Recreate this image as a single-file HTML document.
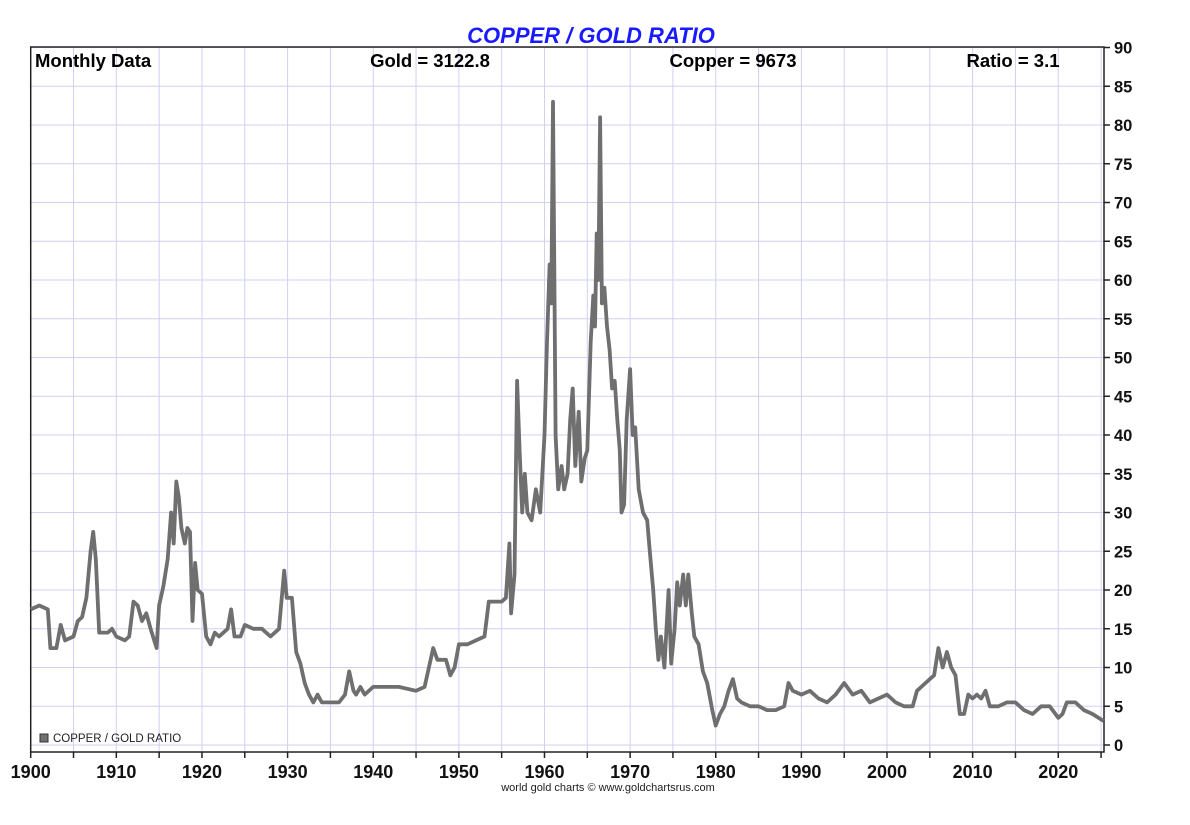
<!DOCTYPE html>
<html><head><meta charset="utf-8"><style>
body{margin:0;background:#fff;}
svg{display:block;font-family:"Liberation Sans",sans-serif;}
</style></head><body>
<svg width="1190" height="825" viewBox="0 0 1190 825">
<g id="grid"></g>
<g id="axes"></g>
<text x="591" y="43" text-anchor="middle" fill="#1a1aff" font-weight="bold" font-style="italic" font-size="22">COPPER / GOLD RATIO</text>
<text x="35" y="67" font-weight="bold" font-size="18.5">Monthly Data</text>
<text x="430" y="67" text-anchor="middle" font-weight="bold" font-size="18.5">Gold = 3122.8</text>
<text x="733" y="67" text-anchor="middle" font-weight="bold" font-size="18.5">Copper = 9673</text>
<text x="1013" y="67" text-anchor="middle" font-weight="bold" font-size="18.5">Ratio = 3.1</text>
<path id="series" fill="none" stroke="#6f6f6f" stroke-width="3.8" stroke-linejoin="round"></path>
<rect x="40" y="734" width="8" height="8" fill="#707070" stroke="#333" stroke-width="1"/>
<text x="53" y="742" font-size="11.5" fill="#222">COPPER / GOLD RATIO</text>
<text x="608" y="791" text-anchor="middle" font-size="11" fill="#222">world gold charts © www.goldchartsrus.com</text>
</svg>
<script>
const years=[1900,1901,1902,1902.3,1903,1903.5,1904,1905,1905.5,1906,1906.5,1907,1907.3,1907.6,1908,1909,1909.5,1910,1911,1911.5,1912,1912.5,1913,1913.5,1914,1914.7,1915,1915.5,1916,1916.4,1916.7,1917,1917.3,1917.6,1918,1918.3,1918.6,1918.9,1919.2,1919.5,1920,1920.5,1921,1921.5,1922,1923,1923.4,1923.8,1924.5,1925,1926,1927,1928,1929,1929.6,1929.9,1930.5,1931,1931.5,1932,1932.5,1933,1933.5,1934,1935,1936,1936.7,1937.2,1937.7,1938,1938.5,1939,1940,1941,1943,1945,1946,1946.5,1947,1947.5,1948,1948.5,1949,1949.5,1950,1951,1952,1953,1953.5,1955,1955.5,1955.9,1956.1,1956.5,1956.8,1957.1,1957.4,1957.7,1958,1958.5,1959,1959.5,1960,1960.3,1960.6,1960.8,1961,1961.3,1961.6,1962,1962.3,1962.7,1963,1963.3,1963.6,1964,1964.3,1964.7,1965,1965.4,1965.7,1965.9,1966.1,1966.3,1966.5,1966.7,1967,1967.3,1967.6,1967.9,1968.2,1968.5,1968.8,1969,1969.3,1969.6,1970,1970.3,1970.6,1971,1971.5,1972,1972.3,1972.7,1973,1973.3,1973.6,1974,1974.5,1974.8,1975.2,1975.5,1975.8,1976.2,1976.5,1976.8,1977.2,1977.5,1978,1978.5,1979,1979.6,1980,1980.5,1981,1981.5,1982,1982.5,1983,1984,1985,1986,1987,1988,1988.5,1989,1990,1991,1992,1993,1994,1995,1996,1997,1998,1999,2000,2001,2002,2003,2003.5,2004,2005,2005.5,2006,2006.5,2007,2007.5,2008,2008.5,2009,2009.5,2010,2010.5,2011,2011.5,2012,2013,2014,2015,2016,2017,2018,2019,2020,2020.5,2021,2022,2023,2024,2025.3];
const ratios=[17.5,18,17.5,12.5,12.5,15.5,13.5,14,16,16.5,19,25,27.5,24,14.5,14.5,15,14,13.5,14,18.5,18,16,17,15,12.5,18,20.5,24,30,26,34,32,28,26,28,27.5,16,23.5,20,19.5,14,13,14.5,14,15,17.5,14,14,15.5,15,15,14,15,22.5,19,19,12,10.5,8,6.5,5.5,6.5,5.5,5.5,5.5,6.5,9.5,7,6.5,7.5,6.5,7.5,7.5,7.5,7,7.5,10,12.5,11,11,11,9,10,13,13,13.5,14,18.5,18.5,19,26,17,22,47,38,30,35,30,29,33,30,40,52,62,57,83,40,33,36,33,35,42,46,36,43,34,37,38,52,58,54,66,60,81,57,59,54,51,46,47,42,38,30,31,42,48.5,40,41,33,30,29,25,20,15,11,14,10,20,10.5,15,21,18,22,18,22,17,14,13,9.5,8,4.5,2.5,4,5,7,8.5,6,5.5,5,5,4.5,4.5,5,8,7,6.5,7,6,5.5,6.5,8,6.5,7,5.5,6,6.5,5.5,5,5,7,7.5,8.5,9,12.5,10,12,10,9,4,4,6.5,6,6.5,6,7,5,5,5.5,5.5,4.5,4,5,5,3.5,4,5.5,5.5,4.5,4,3.1];
const yTicks=[0,5,10,15,20,25,30,35,40,45,50,55,60,65,70,75,80,85,90];
const xLabels=[1900,1910,1920,1930,1940,1950,1960,1970,1980,1990,2000,2010,2020];
const NS='http://www.w3.org/2000/svg';
const L=30.7,R=1104,T=47,B=752;
const xs=y=>L+(y-1900)*8.563;
const ys=v=>745-v*7.75;
function mk(tag,attrs,parent){const e=document.createElementNS(NS,tag);for(const k in attrs)e.setAttribute(k,attrs[k]);parent.appendChild(e);return e;}
const grid=document.getElementById('grid'),axes=document.getElementById('axes');
for(let y=1905;y<=2025;y+=5){const l=mk('line',{x1:xs(y),x2:xs(y),y1:T,y2:B,stroke:'#d0d0f4','stroke-width':1},grid);

}
yTicks.forEach(v=>{const l=mk('line',{x1:L,x2:R,y1:ys(v),y2:ys(v),stroke:'#d0d0f4','stroke-width':1},grid);


const t=mk('line',{x1:R,x2:R+6,y1:ys(v),y2:ys(v),stroke:'#222','stroke-width':1.5},axes);


const tx=mk('text',{x:R+10,y:ys(v)+6,'font-size':16.5,'font-weight':'bold',fill:'#111'},axes);tx.textContent=v;

});
const fr=mk('rect',{x:L,y:T,width:R-L,height:B-T,fill:'none',stroke:'#222','stroke-width':1.5},axes);


for(let y=1900;y<=2025;y+=5){const t=mk('line',{x1:xs(y),x2:xs(y),y1:B,y2:B+6,stroke:'#222','stroke-width':1.5},axes);

}
xLabels.forEach(y=>{const tx=mk('text',{x:xs(y),y:778,'text-anchor':'middle','font-size':18,'font-weight':'bold',fill:'#111'},axes);tx.textContent=y;

});
document.getElementById('series').setAttribute('d',years.map((y,i)=>(i?'L':'M')+xs(y).toFixed(1)+','+ys(ratios[i]).toFixed(1)).join(''));
</script>
</body></html>
